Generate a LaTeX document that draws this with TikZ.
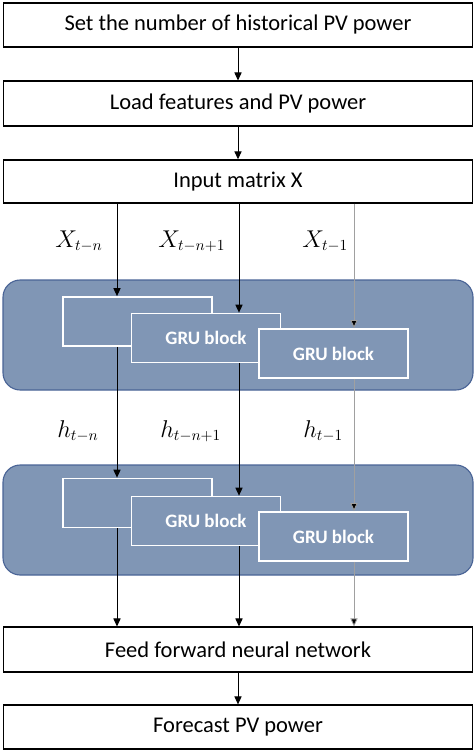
\documentclass[tikz,border=0pt]{standalone}
\usepackage{fontspec}
\setmainfont{Carlito}
\usetikzlibrary{arrows.meta}
\definecolor{panelfill}{RGB}{128,150,181}
\definecolor{paneldraw}{RGB}{74,100,150}
\definecolor{lightline}{RGB}{160,160,160}
\tikzset{
  stepbox/.style={draw=black, line width=0.9pt, fill=white, minimum width=117.2mm,
    inner sep=0pt, font=\fontsize{16}{18}\selectfont},
  panel/.style={draw=paneldraw, line width=0.8pt, fill=panelfill, rounded corners=4.3mm},
  gru/.style={draw=white, line width=1.1pt, fill=panelfill, minimum width=37.2mm,
    minimum height=12.3mm, inner sep=0pt, text=white, font=\bfseries\fontsize{13.5}{15}\selectfont},
  flow/.style={-{Triangle[length=2mm,width=1.8mm]}, line width=0.7pt},
  grayflow/.style={flow, draw=lightline, line width=0.6pt, -{Triangle[length=2mm,width=1.8mm,fill=black]}},
  lab/.style={anchor=base west, inner sep=0pt, font=\fontsize{16}{18}\selectfont}
}
\begin{document}
\begin{tikzpicture}[x=0.25mm, y=-0.25mm]
    \useasboundingbox (0,0) rectangle (474,752);

    % steps at the top
    \node[stepbox, minimum height=11mm] (setnum) at (238,25) {Set the number of historical PV power};
    \node[stepbox, minimum height=11.2mm] (load) at (238,103.5) {Load features and PV power};
    \node[stepbox, minimum height=10.8mm] (inp) at (238,181.5) {Input matrix X};
    \draw[flow] (setnum) -- (load);
    \draw[flow] (load) -- (inp);

    % columns
    \coordinate (c1) at (117,0);
    \coordinate (c2) at (239,0);
    \coordinate (c3) at (354,0);

    % first GRU layer
    \draw[panel] (3,280) rectangle (473,390);
    \node[gru] (ga1) at (137.5,321.5) {};
    \node[gru] (gb1) at (206,338) {GRU block};
    \node[gru] (gc1) at (333.5,353.5) {GRU block};

    \node[lab] (x1) at (55,247) {$X_{t-n}$};
    \node[lab] (x2) at (158,247) {$X_{t-n+1}$};
    \node[lab] (x3) at (302,247) {$X_{t-1}$};

    \draw[flow] (inp.south -| c1) -- (ga1.north -| c1);
    \draw[flow] (inp.south -| c2) -- (gb1.north -| c2);
    \draw[grayflow] (inp.south -| c3) -- (gc1.north -| c3);

    % second GRU layer
    \draw[panel] (3,465) rectangle (473,575);
    \node[gru] (ga2) at (137.5,503) {};
    \node[gru] (gb2) at (206,521) {GRU block};
    \node[gru] (gc2) at (333.5,536.5) {GRU block};

    \node[lab] (h1) at (57,437) {$h_{t-n}$};
    \node[lab] (h2) at (160,437) {$h_{t-n+1}$};
    \node[lab] (h3) at (303,437) {$h_{t-1}$};

    \draw[flow] (ga1.south -| c1) -- (ga2.north -| c1);
    \draw[flow] (gb1.south -| c2) -- (gb2.north -| c2);
    \draw[grayflow] (gc1.south -| c3) -- (gc2.north -| c3);

    % steps at the bottom
    \node[stepbox, minimum height=11.2mm] (ffnn) at (238,649.5) {Feed forward neural network};
    \node[stepbox, minimum height=11mm] (fcast) at (238,727) {Forecast PV power};

    \draw[flow] (ga2.south -| c1) -- (ffnn.north -| c1);
    \draw[flow] (gb2.south -| c2) -- (ffnn.north -| c2);
    \draw[grayflow] (gc2.south -| c3) -- (ffnn.north -| c3);
    \draw[flow] (ffnn) -- (fcast);

\end{tikzpicture}
\end{document}
